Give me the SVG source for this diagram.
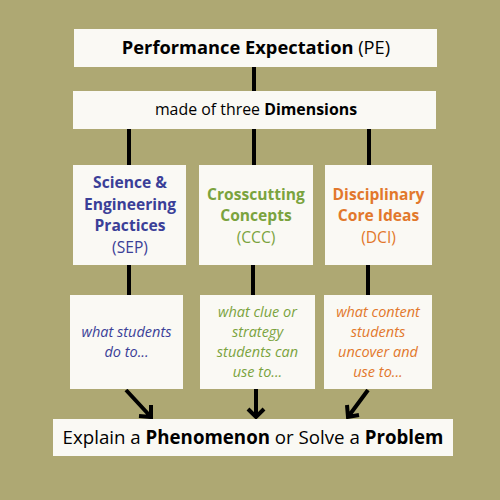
<svg xmlns="http://www.w3.org/2000/svg" width="500" height="500" viewBox="0 0 500 500">
<style>
.box{fill:#FAF9F4}
text{font-family:"Open Sans","Noto Sans","DejaVu Sans",sans-serif;text-anchor:middle}
.b{font-weight:bold}
.dim{font-size:15.6px}
.it{font-size:14.5px;font-style:italic}
.blue{fill:#3B3F98}
.green{fill:#7AA33E}
.orange{fill:#E2782C}
.ln{stroke:#000;stroke-width:4;fill:none}
.ar{stroke:#000;stroke-width:4;fill:none;stroke-linecap:butt;stroke-linejoin:miter}
</style>
<rect width="500" height="500" fill="#AEA873"/>
<g id="connectors">
<line class="ln" x1="254" y1="67" x2="254" y2="91"/>
<line class="ln" x1="129" y1="129" x2="129" y2="165"/>
<line class="ln" x1="254" y1="129" x2="254" y2="165"/>
<line class="ln" x1="369" y1="129" x2="369" y2="165"/>
<line class="ln" x1="129" y1="265" x2="129" y2="295"/>
<line class="ln" x1="253" y1="265" x2="253" y2="295"/>
<line class="ln" x1="368" y1="265" x2="368" y2="295"/>
<path class="ar" d="M126 390 L151 417 M139 416 L151 417 L151 405"/>
<path class="ar" d="M256 388 L256 417 M248 409 L256 417 L264 409"/>
<path class="ar" d="M368 390 L348 417 M347 405 L348 417 L359 415"/>
</g>
<g id="pe">
<rect class="box" x="74" y="29" width="363" height="38"/>
<text x="256" y="54" style="font-size:18.3px"><tspan class="b">Performance Expectation</tspan> (PE)</text>
</g>
<g id="dimensions">
<rect class="box" x="73" y="91" width="363" height="38"/>
<text x="256" y="115" style="font-size:15.9px">made of three <tspan class="b">Dimensions</tspan></text>
</g>
<g id="sep">
<rect class="box" x="73" y="165" width="113" height="100"/>
<text class="dim blue" x="130" y="188"><tspan class="b" x="130">Science &amp;</tspan><tspan class="b" x="130" dy="21.7">Engineering</tspan><tspan class="b" x="130" dy="21.7">Practices</tspan><tspan x="130" dy="21.7">(SEP)</tspan></text>
</g>
<g id="ccc">
<rect class="box" x="199" y="165" width="114" height="100"/>
<text class="dim green" x="256" y="199.5"><tspan class="b" x="256">Crosscutting</tspan><tspan class="b" x="256" dy="21.7">Concepts</tspan><tspan x="256" dy="21.7">(CCC)</tspan></text>
</g>
<g id="dci">
<rect class="box" x="325" y="165" width="107" height="100"/>
<text class="dim orange" x="378.5" y="199.5"><tspan class="b" x="378.5">Disciplinary</tspan><tspan class="b" x="378.5" dy="21.7">Core Ideas</tspan><tspan x="378.5" dy="21.7">(DCI)</tspan></text>
</g>
<g id="sep-desc">
<rect class="box" x="70" y="295" width="113" height="94"/>
<text class="it blue" x="126.5" y="337"><tspan x="126.5">what students</tspan><tspan x="126.5" dy="20">do to...</tspan></text>
</g>
<g id="ccc-desc">
<rect class="box" x="200" y="295" width="115" height="94"/>
<text class="it green" x="257.5" y="317"><tspan x="257.5">what clue or</tspan><tspan x="257.5" dy="20">strategy</tspan><tspan x="257.5" dy="20">students can</tspan><tspan x="257.5" dy="20">use to...</tspan></text>
</g>
<g id="dci-desc">
<rect class="box" x="324" y="295" width="108" height="94"/>
<text class="it orange" x="378" y="317"><tspan x="378">what content</tspan><tspan x="378" dy="20">students</tspan><tspan x="378" dy="20">uncover and</tspan><tspan x="378" dy="20">use to...</tspan></text>
</g>
<g id="goal">
<rect class="box" x="53" y="419" width="400" height="37"/>
<text x="253" y="443.5" style="font-size:18.7px">Explain a <tspan class="b">Phenomenon</tspan> or Solve a <tspan class="b">Problem</tspan></text>
</g>
</svg>
